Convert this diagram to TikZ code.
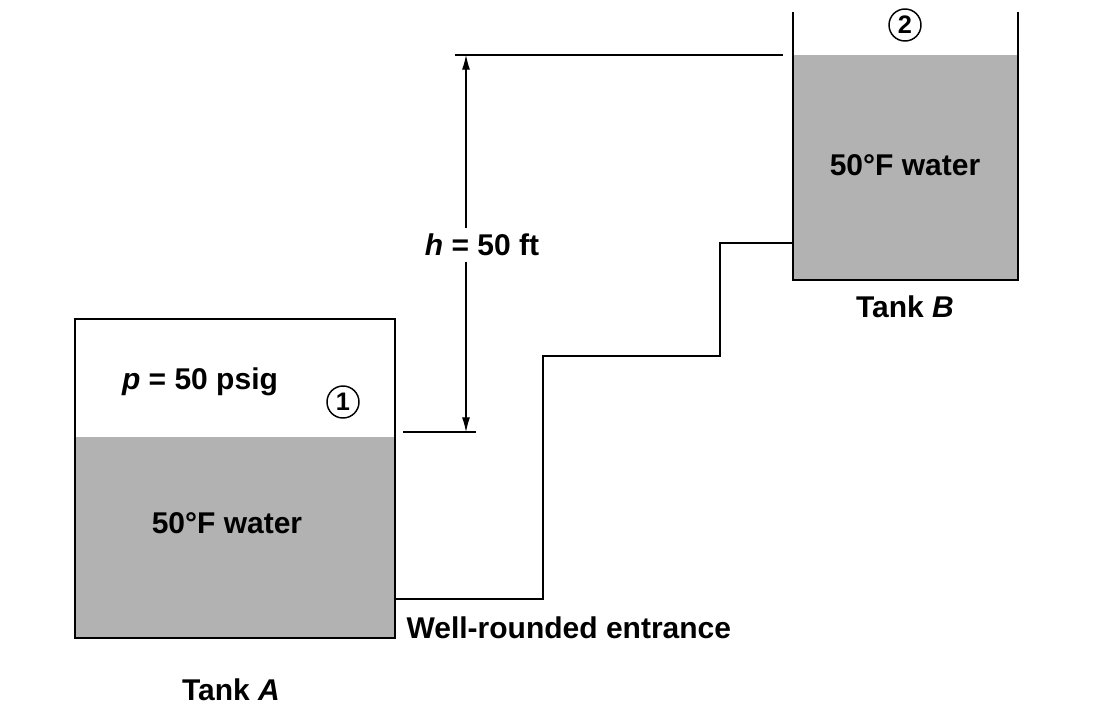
\documentclass[tikz,border=0pt]{standalone}
\usepackage{fontspec}
\setmainfont{Liberation Sans}
\usetikzlibrary{arrows.meta}
\begin{document}
\begin{tikzpicture}[x=0.75pt,y=-0.75pt,
  lbl/.style={font=\fontsize{22.5}{26}\selectfont\bfseries, inner sep=1pt},
  wall/.style={line width=1.6pt},
  water/.style={fill=black!30},
  num/.style={circle, draw, line width=1.1pt, minimum size=24pt, inner sep=0pt, font=\fontsize{19}{22}\selectfont\bfseries}]
\useasboundingbox (0,0) rectangle (1110,726);
% Tank A
\fill[water] (75,437) rectangle (395,638);
\draw[wall] (75,319) rectangle (395,638);
\node[lbl] (pA) at (200,382) {\textit{p} = 50 psig};
\node[num] (n1) at (343,402) {1};
\node[lbl] (wA) at (227,523) {50°F water};
\node[lbl] (tA) at (231,690) {Tank \textit{A}};
% Tank B
\fill[water] (793,55) rectangle (1018,280);
\draw[wall] (793,12) -- (793,280) -- (1018,280) -- (1018,12);
\node[num] (n2) at (905,25) {2};
\node[lbl] (wB) at (905,165) {50°F water};
\node[lbl] (tB) at (905,307) {Tank \textit{B}};
% pipe
\draw[wall] (395,599) -- (543,599) -- (543,356) -- (720,356) -- (720,243) -- (793,243);
\node[lbl, anchor=west] (ent) at (405,628) {Well-rounded entrance};
% dimension
\coordinate (t1) at (455,55); \coordinate (t2) at (783,55);
\coordinate (b1) at (403,432); \coordinate (b2) at (476,432);
\draw[line width=0.8pt] (t1) -- (t2);
\draw[line width=0.8pt] (b1) -- (b2);
\coordinate (at) at (466,55); \coordinate (ab) at (466,432);
\node[lbl, fill=white, inner sep=4pt] (h) at (482,245) {\textit{h} = 50 ft};
\draw[line width=0.8pt, -{Latex[length=11pt,width=6pt]}] (h.north -| at) -- (at);
\draw[line width=0.8pt, -{Latex[length=11pt,width=6pt]}] (h.south -| at) -- (ab);
\end{tikzpicture}
\end{document}
